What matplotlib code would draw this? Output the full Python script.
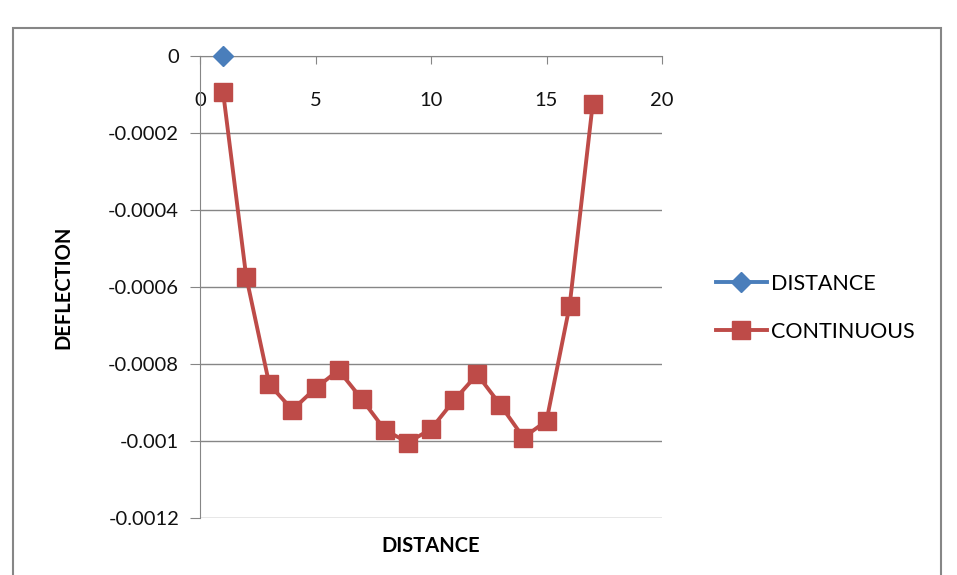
import matplotlib
matplotlib.use("Agg")
import matplotlib.pyplot as plt
from matplotlib.patches import Rectangle

plt.rcParams["font.family"] = ["Lato", "DejaVu Sans"]

# --- data ---
dist_x = [1]
dist_y = [0.0]

cont_x = list(range(1, 18))
cont_y = [-0.000094, -0.000573, -0.000853, -0.000919, -0.000863, -0.000816,
          -0.000891, -0.000971, -0.001004, -0.000969, -0.000894, -0.000827,
          -0.000906, -0.000991, -0.000948, -0.000649, -0.000125]

x_ticks = [0, 5, 10, 15, 20]
y_ticks = [0, -0.0002, -0.0004, -0.0006, -0.0008, -0.001, -0.0012]
y_labels = ["0", "-0.0002", "-0.0004", "-0.0006", "-0.0008", "-0.001", "-0.0012"]

BLUE = "#4a7ebb"
RED = "#be4b48"
GRID = "#868686"

W, H = 957, 575
fig = plt.figure(figsize=(W / 100, H / 100), dpi=100)
ax = fig.add_axes([200 / W, 1 - 518 / H, (662 - 200) / W, (518 - 56) / H])

# outer chart border
fig.patches.append(Rectangle((13 / W, -0.05), (941 - 13) / W, 1 - 28 / H + 0.05,
                             transform=fig.transFigure, fill=False,
                             edgecolor=GRID, lw=1.5))

ax.plot(dist_x, dist_y, color=BLUE, lw=2.8, marker="D", markersize=10,
        label="DISTANCE", clip_on=False, zorder=4)
ax.plot(cont_x, cont_y, color=RED, lw=2.8, marker="s", markersize=13,
        label="CONTINUOUS", clip_on=False, zorder=3)

ax.set_xlim(0, 20)
ax.set_ylim(-0.0012, 0)
ax.set_xticks(x_ticks)
ax.set_yticks(y_ticks)
ax.set_yticklabels(y_labels)

ax.grid(axis="y", color=GRID, lw=1)
ax.set_axisbelow(True)
for s in ["top", "right"]:
    ax.spines[s].set_visible(False)
ax.spines["left"].set_color(GRID)
ax.spines["bottom"].set_position(("data", 0))
ax.spines["bottom"].set_color(GRID)

ax.tick_params(axis="y", direction="out", length=7, color=GRID,
               labelsize=14.5, pad=8, labelcolor="#111111")
ax.tick_params(axis="x", direction="out", length=6, color=GRID,
               labelsize=14.5, pad=20, labelcolor="#111111")

ax.set_xlabel("DISTANCE", fontsize=14.5, fontweight="bold")
ax.xaxis.set_label_coords(0.5, -0.04)
ax.set_ylabel("DEFLECTION", fontsize=14.5, fontweight="bold")
ax.yaxis.set_label_coords(-0.275, 0.5)

fig.legend(loc="center left", bbox_to_anchor=(707 / W, 1 - 308 / H),
           frameon=False, fontsize=15.5, handlelength=2.4, handletextpad=0.15,
           labelspacing=1.3, borderaxespad=0)

fig.savefig("out.png", dpi=100)
